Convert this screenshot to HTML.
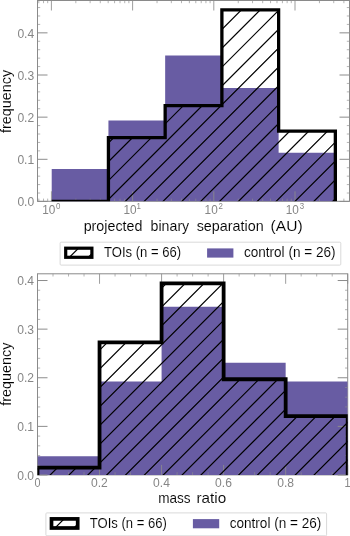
<!DOCTYPE html>
<html lang="en"><head><meta charset="utf-8"><title>Binary separation and mass ratio histograms</title>
<style>html,body{margin:0;padding:0;background:#fff}svg{display:block}text{font-family:"Liberation Sans", "DejaVu Sans", sans-serif}.k{stroke:#fff;stroke-width:.1px;paint-order:fill stroke}</style></head><body>
<svg width="350" height="536" viewBox="0 0 350 536">
<rect width="350" height="536" fill="#fff"/>
<clipPath id="clip1"><rect x="37.5" y="0.5" width="312.0" height="200.8"/></clipPath>
<rect x="37.5" y="0.5" width="312.0" height="200.8" stroke="#8a8a8a" stroke-width="1" fill="none"/>
<path d="M51.70 201.45V169.03H108.43V201.45ZM108.43 201.45V120.39H165.16V201.45ZM165.16 201.45V55.55H221.89V201.45ZM221.89 201.45V87.97H278.62V201.45ZM278.62 201.45V152.82H335.35V201.45Z" fill="#685ca3" clip-path="url(#clip1)"/>
<path d="M51.40 201.3v-10M51.40 0.5v10M132.60 201.3v-10M132.60 0.5v10M213.80 201.3v-10M213.80 0.5v10M295.00 201.3v-10M295.00 0.5v10" stroke="#8c8c8c" stroke-width="0.85" fill="none"/>
<path d="M38.82 201.3v-2.7M38.82 0.5v2.7M43.53 201.3v-2.7M43.53 0.5v2.7M47.68 201.3v-2.7M47.68 0.5v2.7M75.84 201.3v-2.7M75.84 0.5v2.7M90.14 201.3v-2.7M90.14 0.5v2.7M100.29 201.3v-2.7M100.29 0.5v2.7M108.16 201.3v-2.7M108.16 0.5v2.7M114.59 201.3v-2.7M114.59 0.5v2.7M120.02 201.3v-2.7M120.02 0.5v2.7M124.73 201.3v-2.7M124.73 0.5v2.7M128.88 201.3v-2.7M128.88 0.5v2.7M157.04 201.3v-2.7M157.04 0.5v2.7M171.34 201.3v-2.7M171.34 0.5v2.7M181.49 201.3v-2.7M181.49 0.5v2.7M189.36 201.3v-2.7M189.36 0.5v2.7M195.79 201.3v-2.7M195.79 0.5v2.7M201.22 201.3v-2.7M201.22 0.5v2.7M205.93 201.3v-2.7M205.93 0.5v2.7M210.08 201.3v-2.7M210.08 0.5v2.7M238.24 201.3v-2.7M238.24 0.5v2.7M252.54 201.3v-2.7M252.54 0.5v2.7M262.69 201.3v-2.7M262.69 0.5v2.7M270.56 201.3v-2.7M270.56 0.5v2.7M276.99 201.3v-2.7M276.99 0.5v2.7M282.42 201.3v-2.7M282.42 0.5v2.7M287.13 201.3v-2.7M287.13 0.5v2.7M291.28 201.3v-2.7M291.28 0.5v2.7M319.44 201.3v-2.7M319.44 0.5v2.7M333.74 201.3v-2.7M333.74 0.5v2.7M343.89 201.3v-2.7M343.89 0.5v2.7" stroke="#8c8c8c" stroke-width="0.65" fill="none"/>
<path d="M37.5 201.45h10M349.5 201.45h-10M37.5 159.30h10M349.5 159.30h-10M37.5 117.15h10M349.5 117.15h-10M37.5 75.00h10M349.5 75.00h-10M37.5 32.85h10M349.5 32.85h-10" stroke="#8c8c8c" stroke-width="1" fill="none"/>
<path d="M37.5 193.02h2.7M349.5 193.02h-2.7M37.5 184.59h2.7M349.5 184.59h-2.7M37.5 176.16h2.7M349.5 176.16h-2.7M37.5 167.73h2.7M349.5 167.73h-2.7M37.5 150.87h2.7M349.5 150.87h-2.7M37.5 142.44h2.7M349.5 142.44h-2.7M37.5 134.01h2.7M349.5 134.01h-2.7M37.5 125.58h2.7M349.5 125.58h-2.7M37.5 108.72h2.7M349.5 108.72h-2.7M37.5 100.29h2.7M349.5 100.29h-2.7M37.5 91.86h2.7M349.5 91.86h-2.7M37.5 83.43h2.7M349.5 83.43h-2.7M37.5 66.57h2.7M349.5 66.57h-2.7M37.5 58.14h2.7M349.5 58.14h-2.7M37.5 49.71h2.7M349.5 49.71h-2.7M37.5 41.28h2.7M349.5 41.28h-2.7M37.5 24.42h2.7M349.5 24.42h-2.7M37.5 15.99h2.7M349.5 15.99h-2.7M37.5 7.56h2.7M349.5 7.56h-2.7" stroke="#8c8c8c" stroke-width="0.65" fill="none"/>
<clipPath id="poly1"><path d="M51.70 201.45L51.70 201.45L108.43 201.45L108.43 137.59L165.16 137.59L165.16 105.65L221.89 105.65L221.89 9.86L278.62 9.86L278.62 131.20L335.35 131.20L335.35 201.45Z"/></clipPath>
<g clip-path="url(#clip1)">
<g clip-path="url(#poly1)"><path d="M32.50 -26.25L10.75 -4.50M32.50 -7.40L29.60 -4.50M32.50 11.45L48.45 -4.50M32.50 30.30L67.30 -4.50M32.50 49.15L86.15 -4.50M32.50 68.00L105.00 -4.50M32.50 86.85L123.85 -4.50M32.50 105.70L142.70 -4.50M32.50 124.55L161.55 -4.50M32.50 143.40L180.40 -4.50M32.50 162.25L199.25 -4.50M32.50 181.10L218.10 -4.50M32.50 199.95L236.95 -4.50M32.50 218.80L255.80 -4.50M32.50 237.65L274.65 -4.50M32.50 256.50L293.50 -4.50M32.50 275.35L312.35 -4.50M32.50 294.20L331.20 -4.50M32.50 313.05L350.05 -4.50M32.50 331.90L368.90 -4.50M32.50 350.75L387.75 -4.50M32.50 369.60L406.60 -4.50M32.50 388.45L425.45 -4.50M32.50 407.30L444.30 -4.50M32.50 426.15L463.15 -4.50M32.50 445.00L482.00 -4.50M32.50 463.85L500.85 -4.50M32.50 482.70L519.70 -4.50M32.50 501.55L538.55 -4.50M32.50 520.40L557.40 -4.50" stroke="#000" stroke-width="1.2" fill="none"/></g>
<path d="M51.70 201.45L51.70 201.45L108.43 201.45L108.43 137.59L165.16 137.59L165.16 105.65L221.89 105.65L221.89 9.86L278.62 9.86L278.62 131.20L335.35 131.20L335.35 201.45" fill="none" stroke="#000" stroke-width="3.3" stroke-linejoin="miter" stroke-linecap="butt"/>
</g>
<text x="34.2" y="206.35" font-size="12.9" fill="#868686" text-anchor="end" textLength="16.8" lengthAdjust="spacingAndGlyphs">0.0</text>
<text x="34.2" y="164.20" font-size="12.9" fill="#868686" text-anchor="end" textLength="16.8" lengthAdjust="spacingAndGlyphs">0.1</text>
<text x="34.2" y="122.05" font-size="12.9" fill="#868686" text-anchor="end" textLength="16.8" lengthAdjust="spacingAndGlyphs">0.2</text>
<text x="34.2" y="79.90" font-size="12.9" fill="#868686" text-anchor="end" textLength="16.8" lengthAdjust="spacingAndGlyphs">0.3</text>
<text x="34.2" y="37.75" font-size="12.9" fill="#868686" text-anchor="end" textLength="16.8" lengthAdjust="spacingAndGlyphs">0.4</text>
<text x="42.20" y="213.5" font-size="12.9" fill="#868686" text-anchor="start" textLength="13.1" lengthAdjust="spacingAndGlyphs">10</text>
<text x="56.10" y="209.4" font-size="9.6" fill="#868686" text-anchor="start" textLength="4.4" lengthAdjust="spacingAndGlyphs">0</text>
<text x="123.40" y="213.5" font-size="12.9" fill="#868686" text-anchor="start" textLength="13.1" lengthAdjust="spacingAndGlyphs">10</text>
<text x="136.50" y="209.4" font-size="9.6" fill="#868686" text-anchor="start" textLength="4.4" lengthAdjust="spacingAndGlyphs">1</text>
<text x="204.60" y="213.5" font-size="12.9" fill="#868686" text-anchor="start" textLength="13.1" lengthAdjust="spacingAndGlyphs">10</text>
<text x="218.50" y="209.4" font-size="9.6" fill="#868686" text-anchor="start" textLength="4.4" lengthAdjust="spacingAndGlyphs">2</text>
<text x="285.80" y="213.5" font-size="12.9" fill="#868686" text-anchor="start" textLength="13.1" lengthAdjust="spacingAndGlyphs">10</text>
<text x="299.70" y="209.4" font-size="9.6" fill="#868686" text-anchor="start" textLength="4.4" lengthAdjust="spacingAndGlyphs">3</text>
<text transform="translate(11.0 101.4) rotate(-90)" class="k" font-size="14" fill="#000" text-anchor="middle" textLength="63" lengthAdjust="spacingAndGlyphs">frequency</text>
<text x="83.7" y="230.6" font-size="14" fill="#000" text-anchor="start" textLength="58.7" lengthAdjust="spacingAndGlyphs" class="k">projected</text>
<text x="150.6" y="230.6" font-size="14" fill="#000" text-anchor="start" textLength="38.6" lengthAdjust="spacingAndGlyphs" class="k">binary</text>
<text x="196.7" y="230.6" font-size="14" fill="#000" text-anchor="start" textLength="67" lengthAdjust="spacingAndGlyphs" class="k">separation</text>
<text x="270.6" y="230.6" font-size="14" fill="#000" text-anchor="start" textLength="32" lengthAdjust="spacingAndGlyphs" class="k">(AU)</text>
<rect x="60.1" y="242.2" width="280.7" height="22.9" rx="1" fill="#fff" stroke="#d9d9d9" stroke-width="1"/>
<clipPath id="lg1"><rect x="65.7" y="248.2" width="26.2" height="9.1"/></clipPath>
<g clip-path="url(#lg1)"><path d="M60.70 228.30L45.80 243.20M60.70 247.15L64.65 243.20M60.70 266.00L83.50 243.20M60.70 284.85L102.35 243.20" stroke="#000" stroke-width="1.2" fill="none"/></g>
<rect x="65.7" y="248.2" width="26.2" height="9.1" fill="none" stroke="#000" stroke-width="3.2"/>
<text x="104.00" y="257.10" font-size="13.8" fill="#000" text-anchor="start" textLength="77.1" lengthAdjust="spacingAndGlyphs" class="k">TOIs (n = 66)</text>
<rect x="207.10" y="248.40" width="26.3" height="9.2" fill="#685ca3"/>
<text x="243.90" y="257.10" font-size="13.8" fill="#000" text-anchor="start" textLength="91.7" lengthAdjust="spacingAndGlyphs" class="k">control (n = 26)</text>
<clipPath id="clip2"><rect x="37.5" y="273.8" width="310.2" height="201.09999999999997"/></clipPath>
<rect x="37.5" y="273.8" width="310.2" height="201.09999999999997" stroke="#8a8a8a" stroke-width="1" fill="none"/>
<path d="M37.50 475.00V456.30H99.54V475.00ZM99.54 475.00V381.50H161.58V475.00ZM161.58 475.00V306.70H223.62V475.00ZM223.62 475.00V362.80H285.66V475.00ZM285.66 475.00V381.50H347.70V475.00Z" fill="#685ca3" clip-path="url(#clip2)"/>
<path d="M37.50 474.9v-10M37.50 273.8v10M99.54 474.9v-10M99.54 273.8v10M161.58 474.9v-10M161.58 273.8v10M223.62 474.9v-10M223.62 273.8v10M285.66 474.9v-10M285.66 273.8v10M347.70 474.9v-10M347.70 273.8v10" stroke="#8c8c8c" stroke-width="0.85" fill="none"/>
<path d="M53.01 474.9v-2.7M53.01 273.8v2.7M68.52 474.9v-2.7M68.52 273.8v2.7M84.03 474.9v-2.7M84.03 273.8v2.7M115.05 474.9v-2.7M115.05 273.8v2.7M130.56 474.9v-2.7M130.56 273.8v2.7M146.07 474.9v-2.7M146.07 273.8v2.7M177.09 474.9v-2.7M177.09 273.8v2.7M192.60 474.9v-2.7M192.60 273.8v2.7M208.11 474.9v-2.7M208.11 273.8v2.7M239.13 474.9v-2.7M239.13 273.8v2.7M254.64 474.9v-2.7M254.64 273.8v2.7M270.15 474.9v-2.7M270.15 273.8v2.7M301.17 474.9v-2.7M301.17 273.8v2.7M316.68 474.9v-2.7M316.68 273.8v2.7M332.19 474.9v-2.7M332.19 273.8v2.7" stroke="#8c8c8c" stroke-width="0.65" fill="none"/>
<path d="M37.5 475.00h10M347.7 475.00h-10M37.5 426.38h10M347.7 426.38h-10M37.5 377.76h10M347.7 377.76h-10M37.5 329.14h10M347.7 329.14h-10M37.5 280.52h10M347.7 280.52h-10" stroke="#8c8c8c" stroke-width="1" fill="none"/>
<path d="M37.5 465.28h2.7M347.7 465.28h-2.7M37.5 455.55h2.7M347.7 455.55h-2.7M37.5 445.83h2.7M347.7 445.83h-2.7M37.5 436.10h2.7M347.7 436.10h-2.7M37.5 416.66h2.7M347.7 416.66h-2.7M37.5 406.93h2.7M347.7 406.93h-2.7M37.5 397.21h2.7M347.7 397.21h-2.7M37.5 387.48h2.7M347.7 387.48h-2.7M37.5 368.04h2.7M347.7 368.04h-2.7M37.5 358.31h2.7M347.7 358.31h-2.7M37.5 348.59h2.7M347.7 348.59h-2.7M37.5 338.86h2.7M347.7 338.86h-2.7M37.5 319.42h2.7M347.7 319.42h-2.7M37.5 309.69h2.7M347.7 309.69h-2.7M37.5 299.97h2.7M347.7 299.97h-2.7M37.5 290.24h2.7M347.7 290.24h-2.7" stroke="#8c8c8c" stroke-width="0.65" fill="none"/>
<clipPath id="poly2"><path d="M37.50 475.00L37.50 467.63L99.54 467.63L99.54 342.40L161.58 342.40L161.58 283.47L223.62 283.47L223.62 379.23L285.66 379.23L285.66 416.07L347.70 416.07L347.70 475.00Z"/></clipPath>
<g clip-path="url(#clip2)">
<g clip-path="url(#poly2)"><path d="M32.50 247.60L11.30 268.80M32.50 266.45L30.15 268.80M32.50 285.30L49.00 268.80M32.50 304.15L67.85 268.80M32.50 323.00L86.70 268.80M32.50 341.85L105.55 268.80M32.50 360.70L124.40 268.80M32.50 379.55L143.25 268.80M32.50 398.40L162.10 268.80M32.50 417.25L180.95 268.80M32.50 436.10L199.80 268.80M32.50 454.95L218.65 268.80M32.50 473.80L237.50 268.80M32.50 492.65L256.35 268.80M32.50 511.50L275.20 268.80M32.50 530.35L294.05 268.80M32.50 549.20L312.90 268.80M32.50 568.05L331.75 268.80M32.50 586.90L350.60 268.80M32.50 605.75L369.45 268.80M32.50 624.60L388.30 268.80M32.50 643.45L407.15 268.80M32.50 662.30L426.00 268.80M32.50 681.15L444.85 268.80M32.50 700.00L463.70 268.80M32.50 718.85L482.55 268.80M32.50 737.70L501.40 268.80M32.50 756.55L520.25 268.80M32.50 775.40L539.10 268.80M32.50 794.25L557.95 268.80" stroke="#000" stroke-width="1.2" fill="none"/></g>
<path d="M37.50 475.00L37.50 467.63L99.54 467.63L99.54 342.40L161.58 342.40L161.58 283.47L223.62 283.47L223.62 379.23L285.66 379.23L285.66 416.07L347.70 416.07L347.70 475.00" fill="none" stroke="#000" stroke-width="3.8" stroke-linejoin="miter" stroke-linecap="butt"/>
</g>
<text x="34.1" y="479.70" font-size="12.9" fill="#868686" text-anchor="end" textLength="16.8" lengthAdjust="spacingAndGlyphs">0.0</text>
<text x="34.1" y="431.08" font-size="12.9" fill="#868686" text-anchor="end" textLength="16.8" lengthAdjust="spacingAndGlyphs">0.1</text>
<text x="34.1" y="382.46" font-size="12.9" fill="#868686" text-anchor="end" textLength="16.8" lengthAdjust="spacingAndGlyphs">0.2</text>
<text x="34.1" y="333.84" font-size="12.9" fill="#868686" text-anchor="end" textLength="16.8" lengthAdjust="spacingAndGlyphs">0.3</text>
<text x="34.1" y="285.22" font-size="12.9" fill="#868686" text-anchor="end" textLength="16.8" lengthAdjust="spacingAndGlyphs">0.4</text>
<text x="37.40" y="487.2" font-size="12.9" fill="#868686" text-anchor="middle" textLength="6.0" lengthAdjust="spacingAndGlyphs">0</text>
<text x="99.44" y="487.2" font-size="12.9" fill="#868686" text-anchor="middle" textLength="16.8" lengthAdjust="spacingAndGlyphs">0.2</text>
<text x="161.48" y="487.2" font-size="12.9" fill="#868686" text-anchor="middle" textLength="16.8" lengthAdjust="spacingAndGlyphs">0.4</text>
<text x="223.52" y="487.2" font-size="12.9" fill="#868686" text-anchor="middle" textLength="16.8" lengthAdjust="spacingAndGlyphs">0.6</text>
<text x="285.56" y="487.2" font-size="12.9" fill="#868686" text-anchor="middle" textLength="16.8" lengthAdjust="spacingAndGlyphs">0.8</text>
<text x="347.60" y="487.2" font-size="12.9" fill="#868686" text-anchor="middle" textLength="6.0" lengthAdjust="spacingAndGlyphs">1</text>
<text transform="translate(11.0 374.2) rotate(-90)" class="k" font-size="14" fill="#000" text-anchor="middle" textLength="63" lengthAdjust="spacingAndGlyphs">frequency</text>
<text x="158.2" y="503.0" font-size="14" fill="#000" text-anchor="start" textLength="32.4" lengthAdjust="spacingAndGlyphs" class="k">mass</text>
<text x="196.5" y="503.0" font-size="14" fill="#000" text-anchor="start" textLength="29.7" lengthAdjust="spacingAndGlyphs" class="k">ratio</text>
<rect x="45.9" y="512.9" width="280.7" height="22.9" rx="1" fill="#fff" stroke="#d9d9d9" stroke-width="1"/>
<clipPath id="lg2"><rect x="51.5" y="518.9" width="26.2" height="9.1"/></clipPath>
<g clip-path="url(#lg2)"><path d="M46.50 498.80L31.40 513.90M46.50 517.65L50.25 513.90M46.50 536.50L69.10 513.90M46.50 555.35L87.95 513.90" stroke="#000" stroke-width="1.2" fill="none"/></g>
<rect x="51.5" y="518.9" width="26.2" height="9.1" fill="none" stroke="#000" stroke-width="3.7"/>
<text x="89.80" y="527.80" font-size="13.8" fill="#000" text-anchor="start" textLength="77.1" lengthAdjust="spacingAndGlyphs" class="k">TOIs (n = 66)</text>
<rect x="192.90" y="519.10" width="26.3" height="9.2" fill="#685ca3"/>
<text x="229.70" y="527.80" font-size="13.8" fill="#000" text-anchor="start" textLength="91.7" lengthAdjust="spacingAndGlyphs" class="k">control (n = 26)</text>
</svg></body></html>
